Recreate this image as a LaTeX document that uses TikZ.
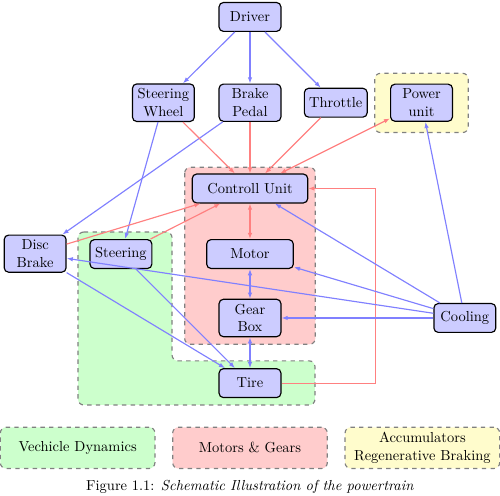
\documentclass[tikz,border=0pt]{standalone}
\usetikzlibrary{calc,arrows.meta}
\pgfdeclarelayer{background}
\pgfsetlayers{background,main}

\begin{document}
\begin{tikzpicture}[
    part/.style={draw,thick,rounded corners=3pt,fill=blue!20,minimum width=1.5cm,minimum height=0.7cm,align=center,inner sep=3.33pt},
    group/.style={draw=black!50,dashed,thick,rounded corners=4pt},
    legend/.style={group,minimum width=3.75cm,minimum height=1cm,align=center},
    sig/.style={->,thick,blue!50},
    pwr/.style={->,thick,red!50},
    >={Latex[length=1.5mm,width=1.1mm]}]
    \useasboundingbox (-6.0625,-7.433) rectangle (6.0625,4.571);

    \node[part] (drv) at (0,4.16) {Driver};
    \node[part] (wheel) at (-2.1,2.08) {Steering\\Wheel};
    \node[part] (pedal) at (0,2.08) {Brake\\Pedal};
    \node[part] (throttle) at (2.08,2.08) {Throttle};
    \node[part] (power) at (4.16,2.08) {Power\\unit};
    \node[part,minimum width=2.8cm] (cu) at (0,0) {Controll Unit};
    \node[part,minimum width=2.1cm] (motor) at (0,-1.59) {Motor};
    \node[part] (gear) at (0,-3.14) {Gear\\Box};
    \node[part] (tire) at (0,-4.72) {Tire};
    \node[part] (disc) at (-5.21,-1.58) {Disc\\Brake};
    \node[part] (steer) at (-3.13,-1.59) {Steering};
    \node[part] (cool) at (5.21,-3.14) {Cooling};

    % groups
    \begin{pgfonlayer}{background}
        \draw[group,fill=red!20] ($ (cu.north west) + (-0.17,0.15) $) rectangle ($ (cu.east |- gear.south) + (0.17,-0.17) $);
        \draw[group,fill=yellow!20] ($ (power.north west) + (-0.37,0.25) $) rectangle ($ (power.south east) + (0.37,-0.26) $);
        \draw[group,fill=green!20] (-4.17,-1.055) -- (-1.89,-1.055) -- (-1.89,-4.18) -- (1.576,-4.18)
            -- (1.576,-5.25) -- (-4.17,-5.25) -- cycle;
    \end{pgfonlayer}

    % driver inputs
    \draw[sig] (drv) -- (wheel);
    \draw[sig] (drv) -- (pedal);
    \draw[sig] (drv) -- (throttle);
    \draw[sig] (wheel) -- (steer);
    \draw[sig] (pedal) -- (disc);

    % control
    \draw[pwr] (wheel) -- (cu);
    \draw[pwr] (pedal) -- (cu);
    \draw[pwr] (throttle) -- (cu);
    \draw[pwr,<->] (power) -- (cu);
    \draw[pwr] (disc) -- (cu);
    \draw[pwr] (steer) -- (cu);
    \draw[pwr,<->] (cu) -- (motor);
    \draw[pwr] (tire.east) -- ++(2.28,0) |- (cu.east);

    % drivetrain
    \draw[sig,<->] (motor) -- (gear);
    \draw[sig,<->] (gear) -- (tire);
    \draw[sig] (disc) -- (tire);
    \draw[sig] (steer) -- (tire);

    % cooling
    \draw[sig] (cool) -- (power);
    \draw[sig] (cool) -- (cu);
    \draw[sig] (cool) -- (motor);
    \draw[sig] (cool) -- (gear);
    \draw[sig] (cool) -- (disc);

    % legend
    \node[legend,fill=green!20] (lgdyn) at (-4.18,-6.29) {Vechicle Dynamics};
    \node[legend,fill=red!20] (lgmot) at (0,-6.29) {Motors \& Gears};
    \node[legend,fill=yellow!20] (lgacc) at (4.18,-6.29) {Accumulators\\Regenerative Braking};
    \node (caption) at (0,-7.24) {Figure 1.1: \textit{Schematic Illustration of the powertrain}};
\end{tikzpicture}
\end{document}
